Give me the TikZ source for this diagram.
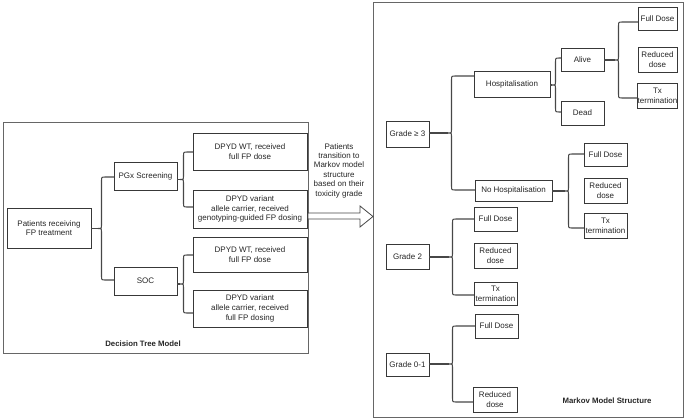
\documentclass[tikz,border=0pt]{standalone}
\usepackage{fontspec}
\setmainfont{Liberation Sans}
\usetikzlibrary{calc}
\tikzset{
  box/.style={draw=black!78, line width=0.95pt, fill=white, align=center, inner sep=0pt, outer sep=0pt,
    font=\fontsize{8}{9.6}\selectfont, text=black!85},
  conn/.style={draw=black!72, line width=1.05pt},
  frame/.style={draw=black!60, line width=0.85pt, inner sep=0pt, outer sep=0pt},
  title/.style={font=\fontsize{7.8}{9}\selectfont\bfseries, text=black!85, inner sep=0pt},
  note/.style={font=\fontsize{8}{9.4}\selectfont, text=black!85, align=center, inner sep=0pt},
}
\newcommand{\bxc}[6]{%
  \pgfmathsetmacro\mycx{(#2+#4)/2}\pgfmathsetmacro\mycy{(#3+#5)/2}%
  \pgfmathsetmacro\mybw{#4-#2}\pgfmathsetmacro\mybh{#5-#3}%
  \node[box, minimum width=\mybw pt, minimum height=\mybh pt] (#1) at (\mycx,\mycy) {#6};}
% #1 parent, #2 x of tip, #3 y top, #4 y bottom, #5 top child, #6 bottom child
\newcommand{\brc}[6]{%
  \pgfmathsetmacro\myym{(#3+#4)/2}\pgfmathsetmacro\myxv{#2+3.5}%
  \draw[conn] (#1.east |- 0,\myym) -- (#2,\myym);
  \draw[conn] (#5.west |- 0,#3) -- (\myxv+4,#3) .. controls (\myxv,#3) .. (\myxv,#3+4)
     -- (\myxv,\myym-4) .. controls (\myxv,\myym) .. (#2,\myym)
     .. controls (\myxv,\myym) .. (\myxv,\myym+4) -- (\myxv,#4-4)
     .. controls (\myxv,#4) .. (\myxv+4,#4) -- (#6.west |- 0,#4);}
\begin{document}
\begin{tikzpicture}[x=1pt, y=-1pt]
\useasboundingbox (0,0) rectangle (685,420);
% frames
\node[frame, minimum width=305pt, minimum height=231pt] (lframe) at (155.5,237.5) {};
\node[frame, minimum width=310pt, minimum height=415pt] (rframe) at (528,209.5) {};
% left tree
\bxc{pat}{7}{208}{91}{248}{Patients receiving\\FP treatment}
\bxc{pgx}{114}{162}{177}{190}{PGx Screening}
\bxc{soc}{114}{267}{177}{295}{SOC}
\bxc{wta}{193}{133}{307}{170}{DPYD WT, received\\full FP dose}
\bxc{vara}{193}{190}{307}{228}{DPYD variant\\allele carrier, received\\genotyping-guided FP dosing}
\bxc{wtb}{193}{237}{307}{272}{DPYD WT, received\\full FP dose}
\bxc{varb}{193}{290}{307}{327}{DPYD variant\\allele carrier, received\\full FP dosing}
\brc{pat}{98}{177}{280}{pgx}{soc}
\brc{pgx}{180}{152}{207}{wta}{vara}
\brc{soc}{180}{255}{313}{wtb}{varb}
\node[title] (ltitle) at (143,344) {Decision Tree Model};
% arrow
\draw[draw=black!72, line width=0.8pt, fill=white, line join=miter]
  (lframe.east |- 0,213) -- (360,213) -- (360,206) -- (rframe.west |- 0,216.5)
  -- (360,227) -- (360,219) -- (lframe.east |- 0,219) -- cycle;
\node[note] (atxt) at (339,170.5) {Patients\\transition to\\Markov model\\structure\\based on their\\toxicity grade};
% right tree
\bxc{gthree}{386}{121}{429}{147}{Grade ≥ 3}
\bxc{hosp}{474}{71}{550}{97}{Hospitalisation}
\bxc{alive}{561}{48}{604}{71}{Alive}
\bxc{dead}{561}{101}{604}{125}{Dead}
\bxc{fda}{638}{7}{677}{30}{Full Dose}
\bxc{rda}{638}{47}{677}{72}{Reduced\\dose}
\bxc{txa}{638}{83}{677}{108}{Tx\\termination}
\bxc{nohosp}{475}{180}{552}{201}{No Hospitalisation}
\bxc{fdb}{584}{143}{627}{166}{Full Dose}
\bxc{rdb}{584}{178}{627}{203}{Reduced\\dose}
\bxc{txb}{584}{213}{627}{238}{Tx\\termination}
\bxc{gtwo}{386}{244}{429}{269}{Grade 2}
\bxc{fdc}{474}{207}{517}{231}{Full Dose}
\bxc{rdc}{474}{243}{517}{268}{Reduced\\dose}
\bxc{txc}{474}{282}{517}{305}{Tx\\termination}
\bxc{gone}{386}{353}{429}{376}{Grade 0-1}
\bxc{fdd}{475}{314}{518}{338}{Full Dose}
\bxc{rdd}{473}{387}{517}{412}{Reduced\\dose}
\brc{gthree}{448}{76}{190}{hosp}{nohosp}
\brc{hosp}{552}{58}{112}{alive}{dead}
\brc{alive}{615}{22}{98}{fda}{txa}
\brc{nohosp}{565}{154}{228}{fdb}{txb}
\brc{gtwo}{449}{219}{295}{fdc}{txc}
\brc{gone}{449}{326}{402}{fdd}{rdd}
\node[title] (rtitle) at (607,401) {Markov Model Structure};
\end{tikzpicture}
\end{document}
